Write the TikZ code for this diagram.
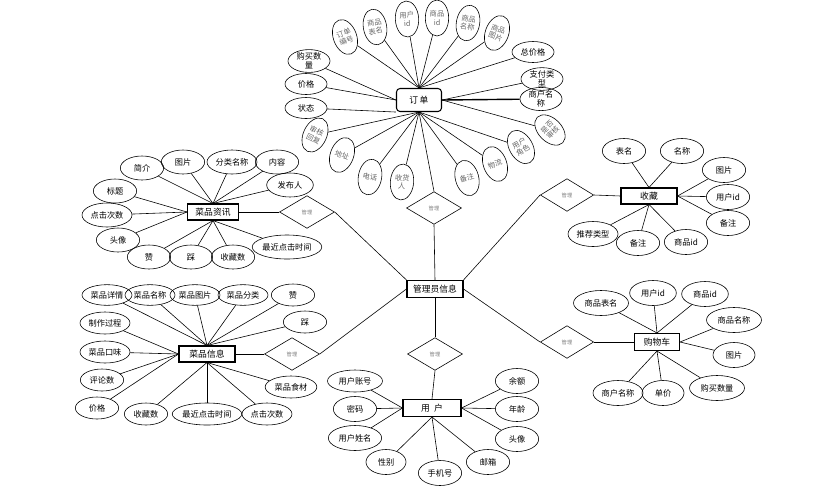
\documentclass[tikz,border=0pt]{standalone}
\usepackage{fontspec}
\setmainfont{Noto Sans CJK SC}
\usetikzlibrary{shapes}

\begin{document}
\begin{tikzpicture}[x=0.03cm, y=-0.03cm, line width=0.5pt]
    \tikzstyle{entity} = [draw, rectangle, line width=0.9pt,
    minimum height=0.5cm, minimum width=1.68cm, font=\fontsize{7.5}{8}\selectfont]
    \tikzstyle{attr} = [draw, ellipse, inner sep=0pt, minimum width=1.3cm,
    minimum height=0.72cm, align=center, font=\fontsize{7}{7.5}\selectfont]
    \tikzstyle{tilted} = [draw, ellipse, inner sep=0pt, minimum width=0.7cm,
    minimum height=1.08cm, align=center, text=gray!80!black, font=\fontsize{6.2}{7}\selectfont]
    \tikzstyle{rel} = [draw, diamond, inner sep=0pt, minimum width=1.65cm,
    minimum height=0.98cm, text=gray, font=\fontsize{4.5}{5}\selectfont]

    \useasboundingbox (0,0) rectangle (830,490);

    % entities and relations
    \node [entity, rounded corners=3pt, minimum width=1.35cm, minimum height=0.69cm] (order) at (419,100) {订\,单};
    \node [entity, minimum width=1.68cm, minimum height=0.51cm] (admin) at (435,289) {管理员信息};
    \node [entity, minimum width=1.74cm, minimum height=0.51cm] (user) at (432,408) {用\enspace 户};
    \node [entity, minimum width=1.53cm, minimum height=0.45cm] (news) at (213,212) {菜品资讯};
    \node [entity, minimum width=1.68cm, minimum height=0.48cm] (dish) at (207,354) {菜品信息};
    \node [entity, minimum width=1.68cm, minimum height=0.48cm] (fav) at (649,196) {收藏};
    \node [entity, minimum width=1.35cm, minimum height=0.51cm] (cart) at (657,342) {购物车};

    \node [rel] (relOrder) at (434,208) {管理};
    \node [rel] (relUser) at (435,354) {管理};
    \node [rel] (relNews) at (307,212) {管理};
    \node [rel] (relDish) at (292,354) {管理};
    \node [rel, minimum width=1.6cm] (relFav) at (567,195) {管理};
    \node [rel, minimum width=1.6cm] (relCart) at (567,342) {管理};

    % order attributes
    \node [tilted, rotate=20] (orderNo) at (345,37) {订单\\编号};
    \node [tilted, rotate=10] (orderTable) at (375,27) {商品\\表名};
    \node [tilted, rotate=3] (orderUid) at (407,19) {用户\\id};
    \node [tilted] (orderGid) at (437,18) {商品\\id};
    \node [tilted, rotate=-10] (orderGname) at (468,23) {商品\\名称};
    \node [tilted, rotate=-20] (orderGpic) at (497,33) {商品\\图片};
    \node [tilted, rotate=45] (orderCheck) at (550,130) {是否\\审核};
    \node [tilted, rotate=30] (orderRole) at (521,147) {用户\\角色};
    \node [tilted, rotate=20] (orderLogis) at (495,164) {物流};
    \node [tilted, rotate=15] (orderNote) at (467,178) {备注};
    \node [tilted, rotate=-5] (orderRecv) at (402,182) {收货\\人};
    \node [tilted, rotate=-10] (orderTel) at (370,177) {电话};
    \node [tilted, rotate=-20] (orderAddr) at (342,155) {地址};
    \node [tilted, rotate=-25] (orderReply) at (315,135) {审核\\回复};
    \node [attr, minimum width=1.26cm, minimum height=0.63cm] (orderTotal) at (533,52) {总价格};
    \node [attr, minimum width=1.26cm, minimum height=0.63cm] (orderPay) at (542,79) {支付类\\型};
    \node [attr, minimum width=1.26cm, minimum height=0.63cm] (orderShop) at (541,99) {商户名\\称};
    \node [attr, minimum width=1.26cm, minimum height=0.63cm] (orderQty) at (309,61) {购买数\\量};
    \node [attr, minimum width=1.26cm, minimum height=0.63cm] (orderPrice) at (306,84) {价格};
    \node [attr, minimum width=1.26cm, minimum height=0.63cm] (orderState) at (306,108) {状态};

    % news attributes
    \node [attr] (newsIntro) at (142,168) {简介};
    \node [attr] (newsPic) at (183,162) {图片};
    \node [attr, minimum width=1.5cm] (newsSort) at (232,162) {分类名称};
    \node [attr] (newsText) at (277,162) {内容};
    \node [attr, minimum width=1.4cm] (newsAuthor) at (290,185) {发布人};
    \node [attr] (newsTitle) at (115,191) {标题};
    \node [attr, minimum width=1.5cm] (newsClick) at (107,215) {点击次数};
    \node [attr] (newsHead) at (118,240) {头像};
    \node [attr] (newsUp) at (149,257) {赞};
    \node [attr] (newsDown) at (191,257) {踩};
    \node [attr] (newsStore) at (233,257) {收藏数};
    \node [attr, minimum width=1.95cm] (newsTime) at (287,247) {最近点击时间};

    % dish attributes
    \node [attr, minimum width=1.5cm, minimum height=0.62cm] (dishDetail) at (107,295) {菜品详情};
    \node [attr, minimum width=1.5cm, minimum height=0.62cm] (dishName) at (150,295) {菜品名称};
    \node [attr, minimum width=1.5cm, minimum height=0.62cm] (dishPic) at (195,295) {菜品图片};
    \node [attr, minimum width=1.5cm, minimum height=0.62cm] (dishSort) at (243,295) {菜品分类};
    \node [attr, minimum height=0.66cm] (dishUp) at (293,295) {赞};
    \node [attr, minimum height=0.66cm] (dishDown) at (305,322) {踩};
    \node [attr, minimum width=1.5cm, minimum height=0.66cm] (dishMake) at (105,323) {制作过程};
    \node [attr, minimum width=1.5cm, minimum height=0.66cm] (dishTaste) at (105,352) {菜品口味};
    \node [attr, minimum height=0.66cm] (dishComment) at (102,380) {评论数};
    \node [attr, minimum height=0.66cm] (dishPrice) at (97,408) {价格};
    \node [attr, minimum height=0.66cm] (dishStore) at (146,414) {收藏数};
    \node [attr, minimum width=2cm, minimum height=0.66cm] (dishTime) at (207,414) {最近点击时间};
    \node [attr, minimum width=1.5cm, minimum height=0.66cm] (dishClick) at (267,414) {点击次数};
    \node [attr, minimum width=1.55cm, minimum height=0.66cm] (dishFood) at (291,387) {菜品食材};

    % user attributes
    \node [attr, minimum width=1.65cm, minimum height=0.66cm] (userAcc) at (355,381) {用户账号};
    \node [attr, minimum width=1.3cm, minimum height=0.75cm] (userPwd) at (355,409) {密码};
    \node [attr, minimum width=1.6cm, minimum height=0.75cm] (userName) at (355,438) {用户姓名};
    \node [attr, minimum width=1.2cm, minimum height=0.75cm] (userSex) at (386,462) {性别};
    \node [attr, minimum width=1.3cm, minimum height=0.75cm] (userTel) at (440,473) {手机号};
    \node [attr, minimum width=1.3cm, minimum height=0.75cm] (userMail) at (488,462) {邮箱};
    \node [attr, minimum width=1.3cm, minimum height=0.75cm] (userHead) at (517,439) {头像};
    \node [attr, minimum width=1.3cm, minimum height=0.75cm] (userAge) at (517,409) {年龄};
    \node [attr, minimum width=1.3cm, minimum height=0.75cm] (userMoney) at (517,381) {余额};

    % fav attributes
    \node [attr, minimum height=0.75cm] (favTable) at (624,151) {表名};
    \node [attr, minimum height=0.75cm] (favName) at (682,151) {名称};
    \node [attr, minimum height=0.75cm] (favPic) at (724,170) {图片};
    \node [attr, minimum height=0.75cm] (favUid) at (728,197) {用户id};
    \node [attr, minimum height=0.75cm] (favNote) at (728,223) {备注};
    \node [attr, minimum width=1.5cm, minimum height=0.75cm] (favType) at (593,234) {推荐类型};
    \node [attr, minimum height=0.75cm] (favNote2) at (638,243) {备注};
    \node [attr, minimum height=0.75cm] (favGid) at (686,242) {商品id};

    % cart attributes
    \node [attr, minimum width=1.65cm, minimum height=0.75cm] (cartTable) at (601,303) {商品表名};
    \node [attr, minimum width=1.4cm, minimum height=0.75cm] (cartUid) at (653,293) {用户id};
    \node [attr, minimum width=1.4cm, minimum height=0.75cm] (cartGid) at (705,294) {商品id};
    \node [attr, minimum width=1.65cm, minimum height=0.75cm] (cartGname) at (734,320) {商品名称};
    \node [attr, minimum width=1.26cm, minimum height=0.75cm] (cartPic) at (734,355) {图片};
    \node [attr, minimum width=1.65cm, minimum height=0.75cm] (cartQty) at (717,388) {购买数量};
    \node [attr, minimum width=1.26cm, minimum height=0.75cm] (cartPrice) at (663,393) {单价};
    \node [attr, minimum width=1.5cm, minimum height=0.75cm] (cartShop) at (618,393) {商户名称};

    % relations
    \draw (order.south) -- (relOrder.north);
    \draw (relOrder.south) -- (admin.north);
    \draw (admin.south) -- (relUser.north);
    \draw (relUser.south) -- (user.north);
    \draw (news.east) -- (relNews.west);
    \draw (relNews.east) -- (admin.north west);
    \draw (dish.east) -- (relDish.west);
    \draw (relDish.east) -- (admin.west);
    \draw (relFav.east) -- (fav.west);
    \draw (relFav.west) -- (admin.north east);
    \draw (relCart.east) -- (cart.west);
    \draw (relCart.west) -- (admin.east);

    % order lines
    \draw (order.north) -- (orderNo);
    \draw (order.north) -- (orderTable);
    \draw (order.north) -- (orderUid);
    \draw (order.north) -- (orderGid);
    \draw (order.north) -- (orderGname);
    \draw (order.north) -- (orderGpic);
    \draw (order.north) -- (orderTotal);
    \draw (order.east) -- (orderPay);
    \draw [line width=1.2pt] (order.east) -- (orderShop);
    \draw (order.east) -- (orderCheck);
    \draw (order.south) -- (orderRole);
    \draw (order.south) -- (orderLogis);
    \draw (order.south) -- (orderNote);
    \draw (order.south) -- (orderRecv);
    \draw (order.south) -- (orderTel);
    \draw (order.south) -- (orderAddr);
    \draw (order.south) -- (orderReply);
    \draw (order.west) -- (orderQty);
    \draw (order.west) -- (orderPrice);
    \draw (order.south west) -- (orderState);

    % news lines
    \draw (news.north) -- (newsIntro);
    \draw (news.north) -- (newsPic);
    \draw (news.north) -- (newsSort);
    \draw (news.north) -- (newsText);
    \draw (news.north) -- (newsAuthor);
    \draw (news.west) -- (newsTitle);
    \draw (news.west) -- (newsClick);
    \draw (news.west) -- (newsHead);
    \draw (news.south) -- (newsUp);
    \draw (news.south) -- (newsDown);
    \draw (news.south) -- (newsStore);
    \draw (news.south) -- (newsTime);

    % dish lines
    \draw (dish.north) -- (dishDetail);
    \draw (dish.north) -- (dishName);
    \draw (dish.north) -- (dishPic);
    \draw (dish.north) -- (dishSort);
    \draw (dish.north) -- (dishUp);
    \draw (dish.north) -- (dishDown);
    \draw (dish.west) -- (dishMake);
    \draw (dish.west) -- (dishTaste);
    \draw (dish.west) -- (dishComment);
    \draw (dish.west) -- (dishPrice);
    \draw (dish.south) -- (dishStore);
    \draw (dish.south) -- (dishTime);
    \draw (dish.south) -- (dishClick);
    \draw (dish.south) -- (dishFood);

    % user lines
    \draw (user.west) -- (userAcc);
    \draw (user.west) -- (userPwd);
    \draw (user.west) -- (userName);
    \draw (user.south) -- (userSex);
    \draw (user.south) -- (userTel);
    \draw (user.south) -- (userMail);
    \draw (user.east) -- (userHead);
    \draw (user.east) -- (userAge);
    \draw (user.east) -- (userMoney);

    % fav lines
    \draw (fav.north) -- (favTable);
    \draw (fav.north) -- (favName);
    \draw (fav.east) -- (favPic);
    \draw (fav.east) -- (favUid);
    \draw (fav.east) -- (favNote);
    \draw (fav.south) -- (favType);
    \draw (fav.south) -- (favNote2);
    \draw (fav.south) -- (favGid);

    % cart lines
    \draw (cart.north) -- (cartTable);
    \draw (cart.north) -- (cartUid);
    \draw (cart.north) -- (cartGid);
    \draw (cart.east) -- (cartGname);
    \draw (cart.east) -- (cartPic);
    \draw (cart.south) -- (cartQty);
    \draw (cart.south) -- (cartPrice);
    \draw (cart.south) -- (cartShop);
  \end{tikzpicture}
\end{document}
